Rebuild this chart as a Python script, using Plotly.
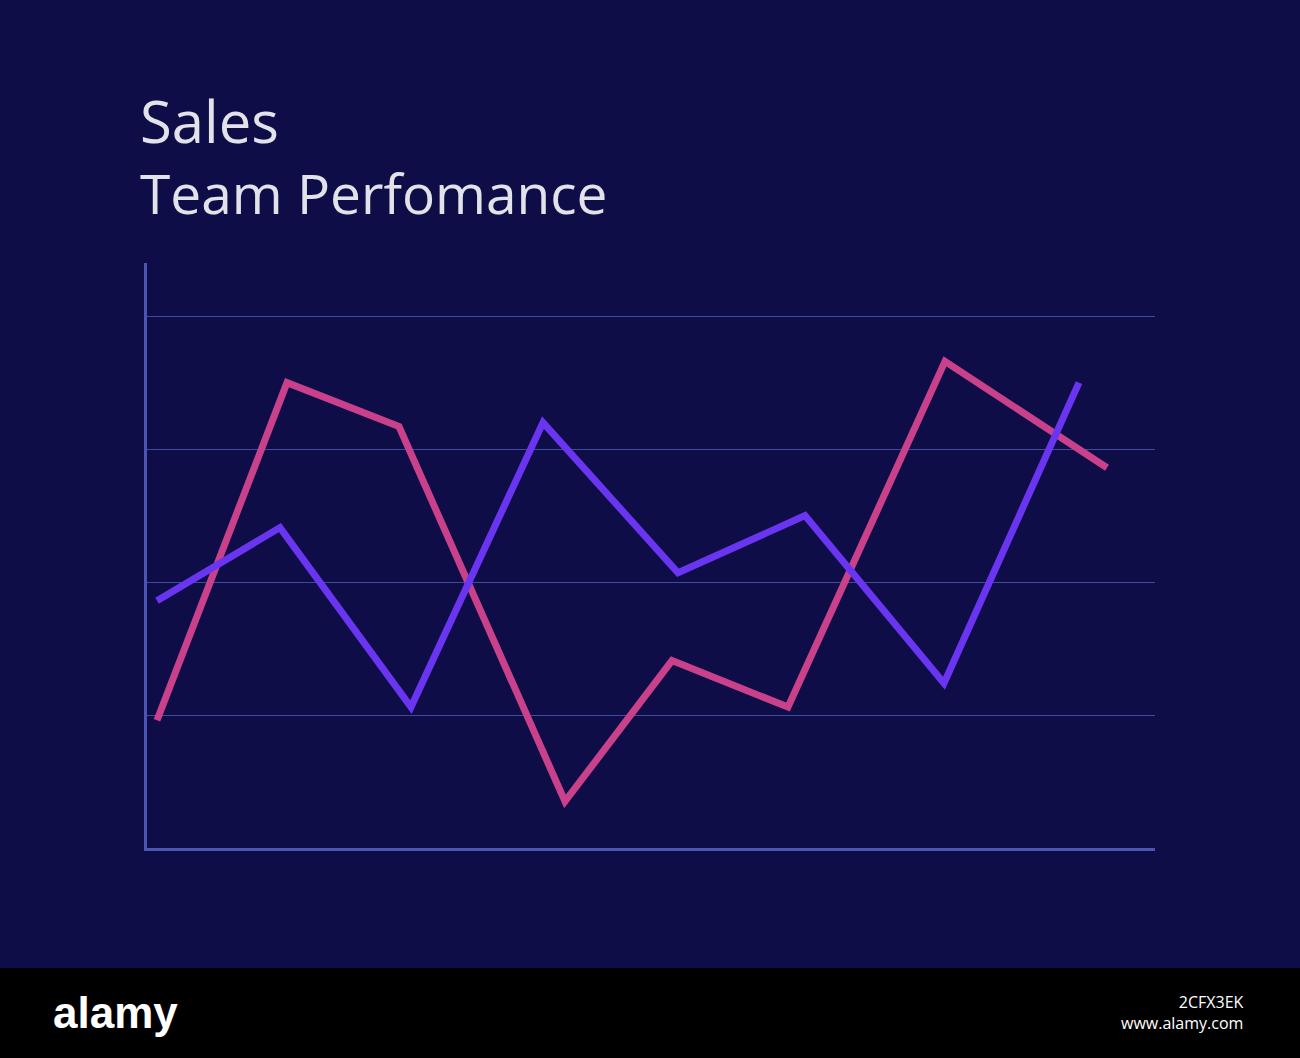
import plotly.graph_objects as go

# data
x_purple = [1.0, 13.3, 26.4, 39.6, 53.1, 65.8, 79.7, 93.2]
y_purple = [1.86, 2.41, 1.06, 3.20, 2.07, 2.50, 1.24, 3.50]
x_pink = [1.0, 14.0, 25.2, 41.8, 52.5, 64.1, 79.8, 96.0]
y_pink = [0.96, 3.50, 3.17, 0.35, 1.41, 1.06, 3.66, 2.86]
title_text = "Sales"
subtitle_text = "Team Perfomance"

bg = "#0f0d47"
fig = go.Figure()
fig.add_trace(go.Scatter(x=x_pink, y=y_pink, mode="lines",
                         line=dict(color="#c8418a", width=7), hoverinfo="skip"))
fig.add_trace(go.Scatter(x=x_purple, y=y_purple, mode="lines",
                         line=dict(color="#6a35f0", width=7), hoverinfo="skip"))

fig.update_layout(
    width=1300, height=1058, showlegend=False,
    paper_bgcolor=bg, plot_bgcolor=bg,
    margin=dict(l=147, r=145, t=263, b=210),
    xaxis=dict(range=[0, 100.8], showgrid=False, zeroline=False, showticklabels=False,
               showline=True, linecolor="#4b56b4", linewidth=3),
    yaxis=dict(range=[0, 4.4], tickvals=[1, 2, 3, 4], showgrid=True, gridcolor="#3f4aa0",
               gridwidth=1, zeroline=False, showticklabels=False,
               showline=True, linecolor="#4b56b4", linewidth=3),
    font=dict(family="Open Sans"),
)
fig.add_annotation(text=title_text, xref="paper", yref="paper", x=-0.009, y=1.244,
                   xanchor="left", yanchor="middle", showarrow=False,
                   font=dict(size=58, color="#e2e2ea", family="Open Sans"))
fig.add_annotation(text=subtitle_text, xref="paper", yref="paper", x=-0.009, y=1.121,
                   xanchor="left", yanchor="middle", showarrow=False,
                   font=dict(size=55, color="#e2e2ea", family="Open Sans"))
# bottom black band
fig.add_shape(type="rect", xref="paper", yref="paper", x0=-0.2, x1=1.2, y0=-0.205, y1=-0.36,
              fillcolor="black", line=dict(width=0), layer="below")
fig.add_annotation(text="<b>alamy</b>", xref="paper", yref="paper", x=-0.095, y=-0.282,
                   xanchor="left", yanchor="middle", showarrow=False,
                   font=dict(size=44, color="white", family="Liberation Sans"))
fig.add_annotation(text="2CFX3EK<br>www.alamy.com", xref="paper", yref="paper", x=1.09, y=-0.282,
                   xanchor="right", yanchor="middle", align="right", showarrow=False,
                   font=dict(size=16, color="white"))
fig.write_html("out.html", config={"displayModeBar": False},
               post_script="document.body.style.margin='0';document.body.style.background='%s';" % bg)
